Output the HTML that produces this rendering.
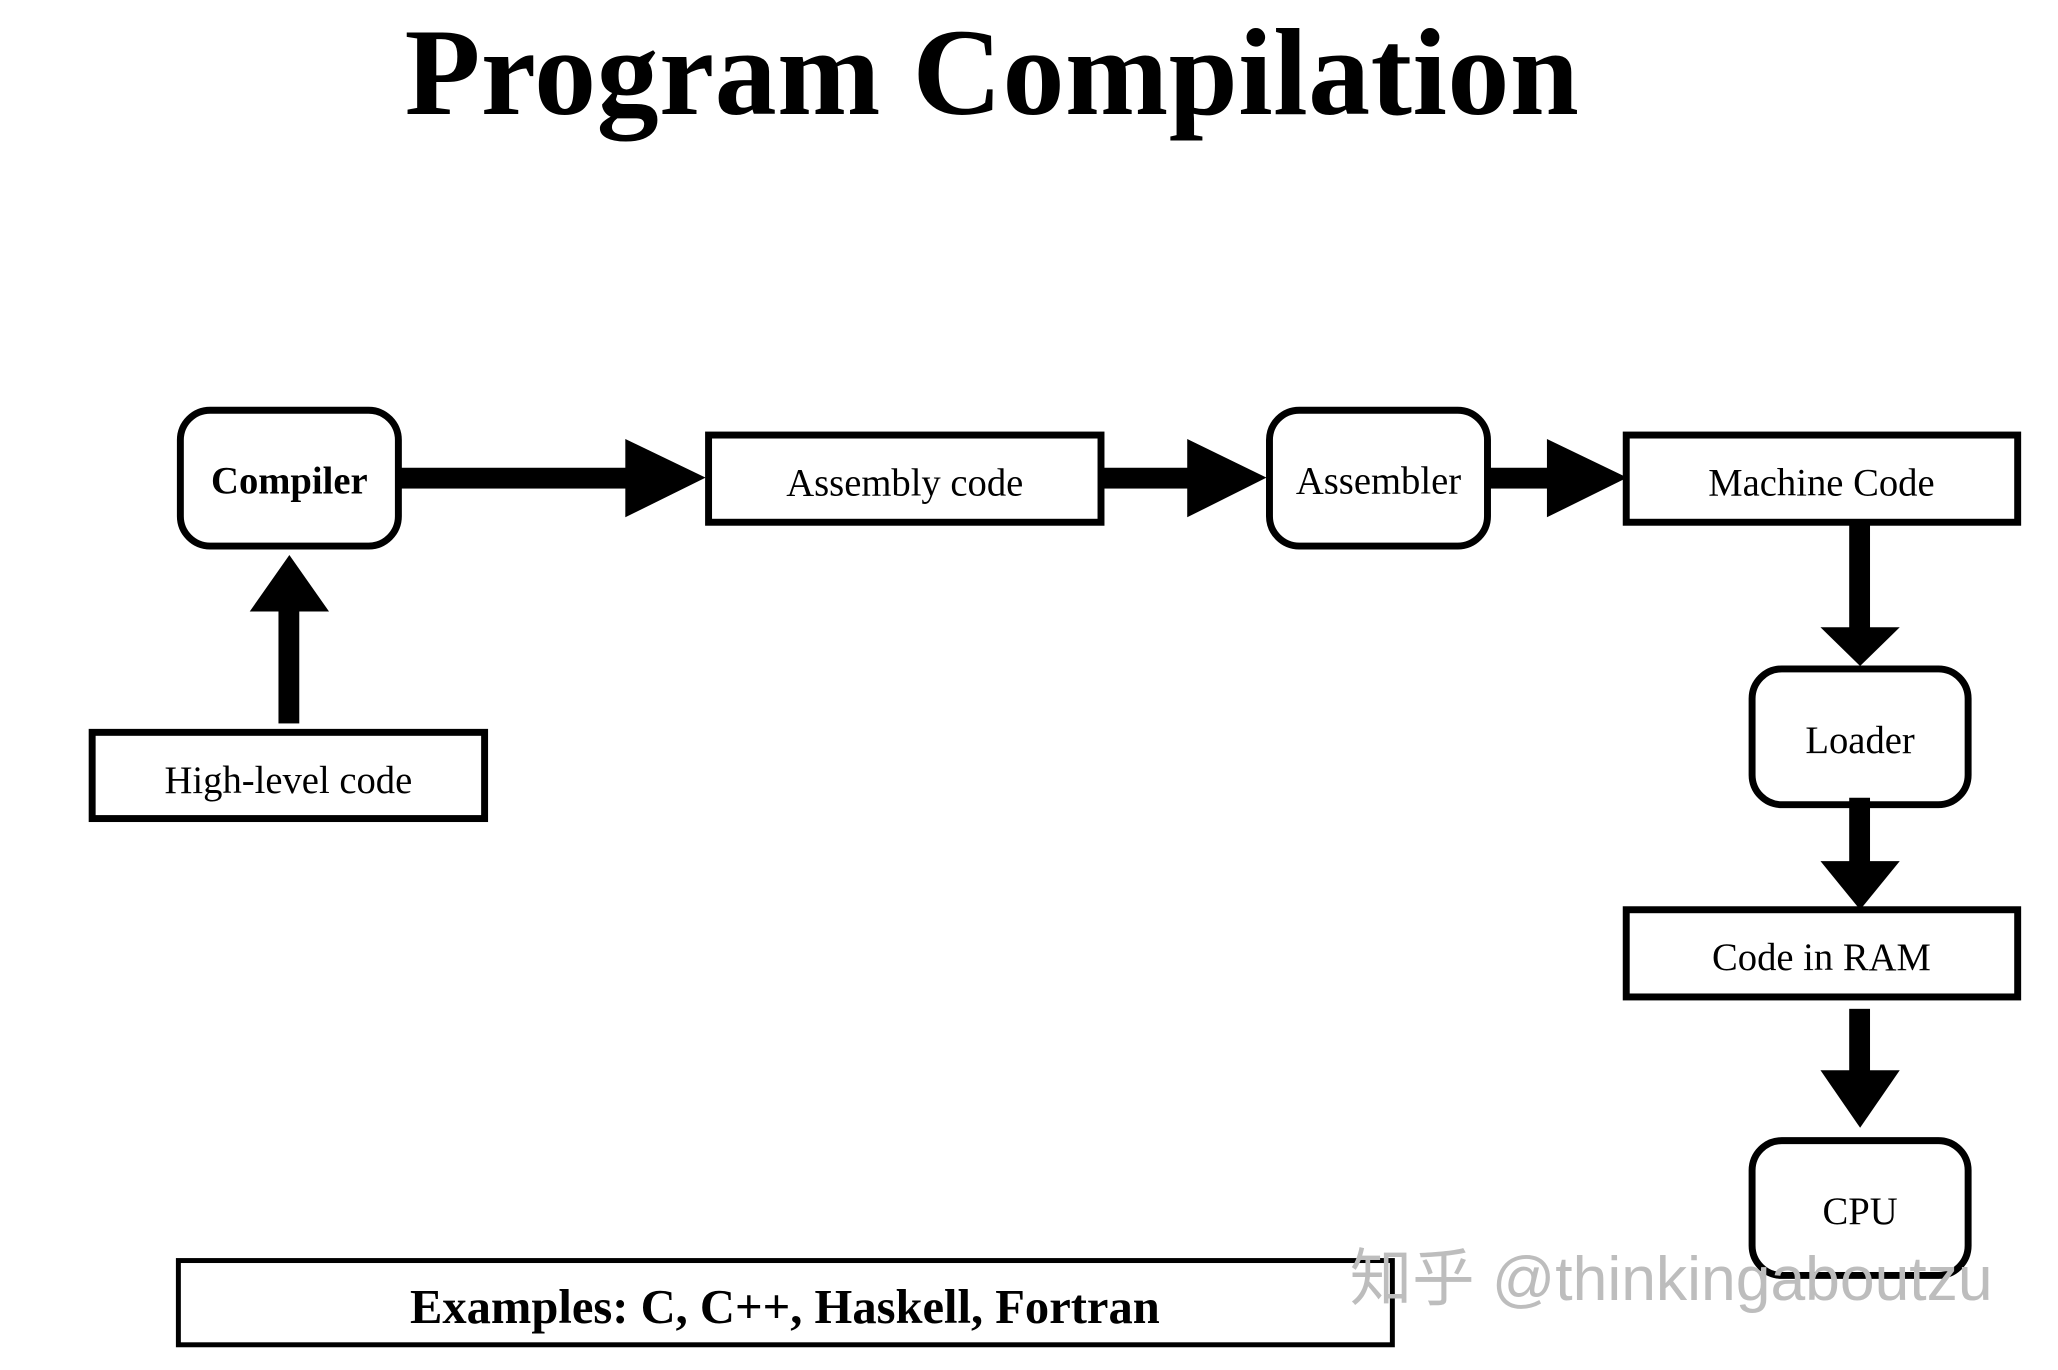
<!DOCTYPE html>
<html><head><meta charset="utf-8"><style>
html,body{margin:0;padding:0;background:#fff;}
svg{display:block;}
text{font-family:"Liberation Serif",serif;fill:#000;}
</style></head><body>
<svg width="2058" height="1370" viewBox="0 0 2058 1370" xmlns="http://www.w3.org/2000/svg">
<rect width="2058" height="1370" fill="#fff"/>
<text x="992" y="114" font-size="124" font-weight="bold" text-anchor="middle" letter-spacing="0.5">Program Compilation</text>
<g transform="scale(0.991)">
<g fill="none" stroke="#000" stroke-width="7">
<rect x="182" y="414" width="220" height="137" rx="30"/>
<rect x="715" y="439" width="396" height="88"/>
<rect x="1281" y="414" width="220" height="137" rx="30"/>
<rect x="1641" y="439" width="395" height="88"/>
<rect x="1768" y="675" width="218" height="137" rx="30"/>
<rect x="1641" y="918" width="395" height="88"/>
<rect x="1768" y="1151" width="218" height="136" rx="30"/>
<rect x="93" y="739" width="396" height="87"/>
<rect x="180" y="1272" width="1225" height="85" stroke-width="5"/>
</g>
<g fill="#000">
<rect x="404" y="472" width="230" height="21"/>
<polygon points="631,443 712,482 631,522"/>
<rect x="1114" y="472" width="85" height="21"/>
<polygon points="1198,443 1278,482 1198,522"/>
<rect x="1504" y="472" width="60" height="21"/>
<polygon points="1561,443 1642,482 1561,522"/>
<rect x="281" y="613" width="21" height="117"/>
<polygon points="252,617 292,560 332,617"/>
<rect x="1866" y="530" width="21" height="105"/>
<polygon points="1837,633 1917,633 1877,672"/>
<rect x="1866" y="805" width="21" height="66"/>
<polygon points="1837,869 1917,869 1877,918"/>
<rect x="1866" y="1018" width="21" height="64"/>
<polygon points="1837,1080 1917,1080 1877,1138"/>
</g>
<g font-size="39" text-anchor="middle">
<text x="292" y="498" font-weight="bold">Compiler</text>
<text x="913" y="500">Assembly code</text>
<text x="1391" y="498">Assembler</text>
<text x="1838" y="500">Machine Code</text>
<text x="1877" y="760">Loader</text>
<text x="1838" y="979">Code in RAM</text>
<text x="1877" y="1235">CPU</text>
<text x="291" y="800">High-level code</text>
<text x="792" y="1335" font-size="49" font-weight="bold">Examples: C, C++, Haskell, Fortran</text>
</g>
<text x="1362" y="1312" font-size="63" style="font-family:'Liberation Sans','Noto Sans CJK SC',sans-serif;fill:#bdbdbd;">知乎 @thinkingaboutzu</text>
</g>
</svg>
</body></html>
